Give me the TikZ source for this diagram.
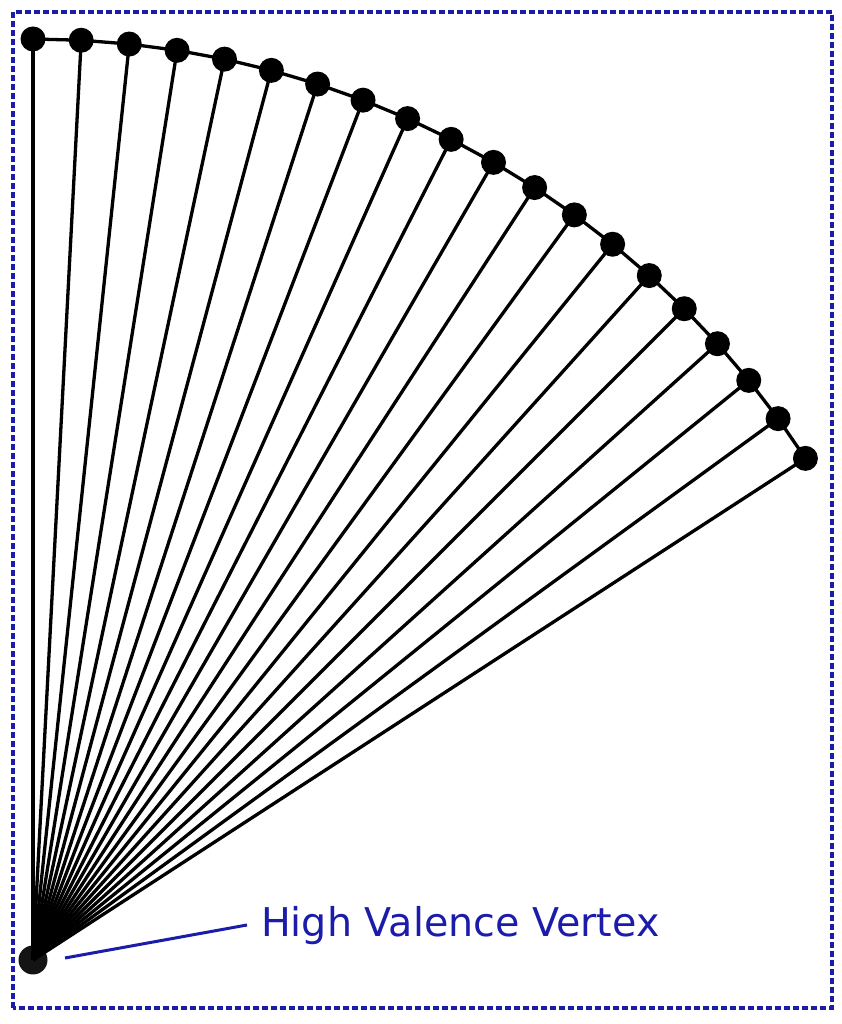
\documentclass[tikz,border=0pt]{standalone}
\usepackage{fontspec}
\setmainfont{DejaVu Sans}
\definecolor{lblue}{RGB}{28,28,170}
\tikzset{
  vtx/.style={circle,fill=black,inner sep=0pt,minimum size=25pt},
  hubv/.style={circle,fill=black!92,inner sep=0pt,minimum size=29pt},
  edge/.style={black,line width=3.3pt},
  frame/.style={lblue,line width=3.3pt,dash pattern=on 6pt off 3pt},
  lbl/.style={lblue,font=\fontsize{39.6}{47}\selectfont,inner sep=0pt,anchor=base west},
  leader/.style={lblue,line width=3pt}
}
\begin{document}
\begin{tikzpicture}[x=1pt,y=1pt]
\useasboundingbox (0,0) rectangle (842,1024);
\draw[frame] (13,16) rectangle (832,1012);
\node[hubv] (h) at (33,64) {};
\foreach \k in {0,...,19} {
  \node[vtx] (v\k) at ({33+921*cos(90-3*\k)},{64+921*sin(90-3*\k)}) {};
}
\foreach \k in {0,...,19} {
  \draw[edge] (h.center) -- (v\k.center);
}
\foreach \k [evaluate=\k as \j using int(\k+1)] in {0,...,18} {
  \draw[edge] (v\k.center) -- (v\j.center);
}
\node[lbl] (lab) at (261,87) {High Valence Vertex};
\coordinate (lend) at (65,66);
\coordinate (lstart) at (247,99);
\draw[leader] (lend) -- (lstart);
\end{tikzpicture}
\end{document}
